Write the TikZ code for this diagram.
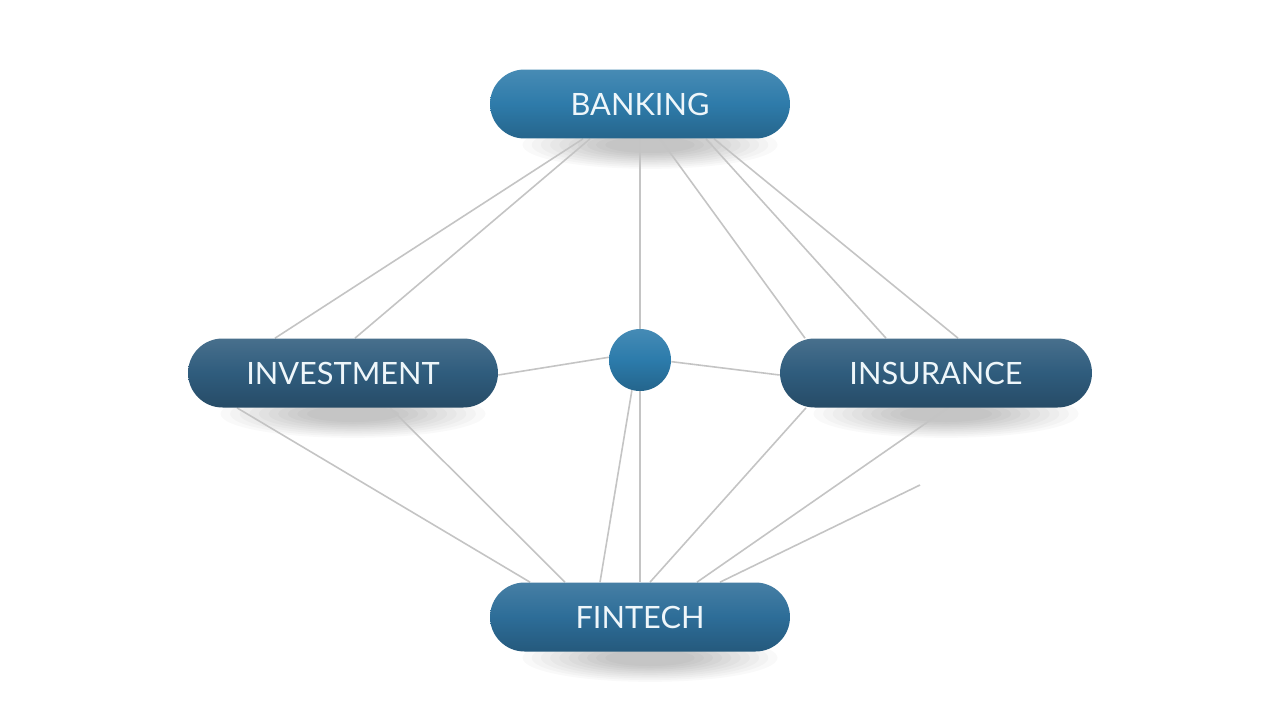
\documentclass[tikz,border=0pt]{standalone}
\usepackage{fontspec}
\setmainfont{Lato}
\usetikzlibrary{shapes.misc,calc}
\pgfdeclarelayer{bglayer}
\pgfdeclarelayer{shadowlayer}
\pgfdeclarelayer{linelayer}
\pgfsetlayers{bglayer,shadowlayer,linelayer,main}
\definecolor{linegray}{HTML}{C4C4C4}
\definecolor{txtwhite}{HTML}{EEF6FA}
\tikzset{
  pill/.style={rounded rectangle, minimum height=1.38cm, inner sep=0pt,
    text=txtwhite, font=\fontsize{17.5}{21}\selectfont},
  bluepill/.style={pill, top color=#1!88!white, bottom color=#1!82!black, middle color=#1},
  link/.style={draw=linegray, line width=0.9pt},
}
\begin{document}
\begin{tikzpicture}[x=0.02cm,y=-0.02cm]
\definecolor{bankc}{HTML}{2E7BAA}
\definecolor{sidec}{HTML}{2F5C7D}
\definecolor{finc}{HTML}{2D6D98}
\definecolor{dotc}{HTML}{2C7BAB}
\node[bluepill=bankc, minimum width=6cm] (bank) at (640,104) {BANKING};
\node[bluepill=sidec, minimum width=6.2cm] (inv) at (343,373) {INVESTMENT};
\node[bluepill=sidec, minimum width=6.24cm] (ins) at (936,373) {INSURANCE};
\node[bluepill=finc, minimum width=6cm] (fin) at (640,617) {FINTECH};
\node[circle, minimum size=1.24cm, inner sep=0pt, top color=dotc!88!white, bottom color=dotc!82!black, middle color=dotc] (dot) at (640,360) {};
\coordinate (free) at (920,485);
\begin{pgfonlayer}{bglayer}
  \fill[white] (0,0) rectangle (1280,720);
\end{pgfonlayer}
\useasboundingbox (0,0) rectangle (1280,720);
\begin{pgfonlayer}{shadowlayer}
  \foreach \n/\w in {bank/115,inv/120,ins/120,fin/115}{
    \foreach \s in {1.0,0.92,...,0.2}{
      \fill[black, opacity=0.022] ($(\n.south)+(10,6)$) ellipse ({\w*\s*0.02cm+0.25cm} and {22*\s*0.02cm+0.04cm});
    }
  }
\end{pgfonlayer}
\begin{pgfonlayer}{linelayer}
  \draw[link] ($(bank.south)+(-57,0)$) -- ($(inv.north)+(-68,0)$);
  \draw[link] ($(bank.south)+(-50,0)$) -- ($(inv.north)+(12,0)$);
  \draw[link] (bank.south) -- (dot.north);
  \draw[link] ($(bank.south)+(20,0)$) -- ($(ins.north)+(-131,0)$);
  \draw[link] ($(bank.south)+(66,0)$) -- ($(ins.north)+(-50,0)$);
  \draw[link] ($(bank.south)+(74,0)$) -- ($(ins.north)+(22,0)$);
  \draw[link] ($(inv.east)+(0,2)$) -- (dot.175);
  \draw[link] (dot.-3) -- ($(ins.west)+(0,2)$);
  \draw[link] ($(inv.south)+(-106,0)$) -- ($(fin.north)+(-110,0)$);
  \draw[link] ($(inv.south)+(47,0)$) -- ($(fin.north)+(-75,0)$);
  \draw[link] (dot.-105) -- ($(fin.north)+(-40,0)$);
  \draw[link] (dot.south) -- (fin.north);
  \draw[link] ($(ins.south)+(-130,0)$) -- ($(fin.north)+(10,0)$);
  \draw[link] ($(ins.south)+(12,0)$) -- ($(fin.north)+(57,0)$);
  \draw[link] (free) -- ($(fin.north)+(80,0)$);
\end{pgfonlayer}
\end{tikzpicture}
\end{document}
